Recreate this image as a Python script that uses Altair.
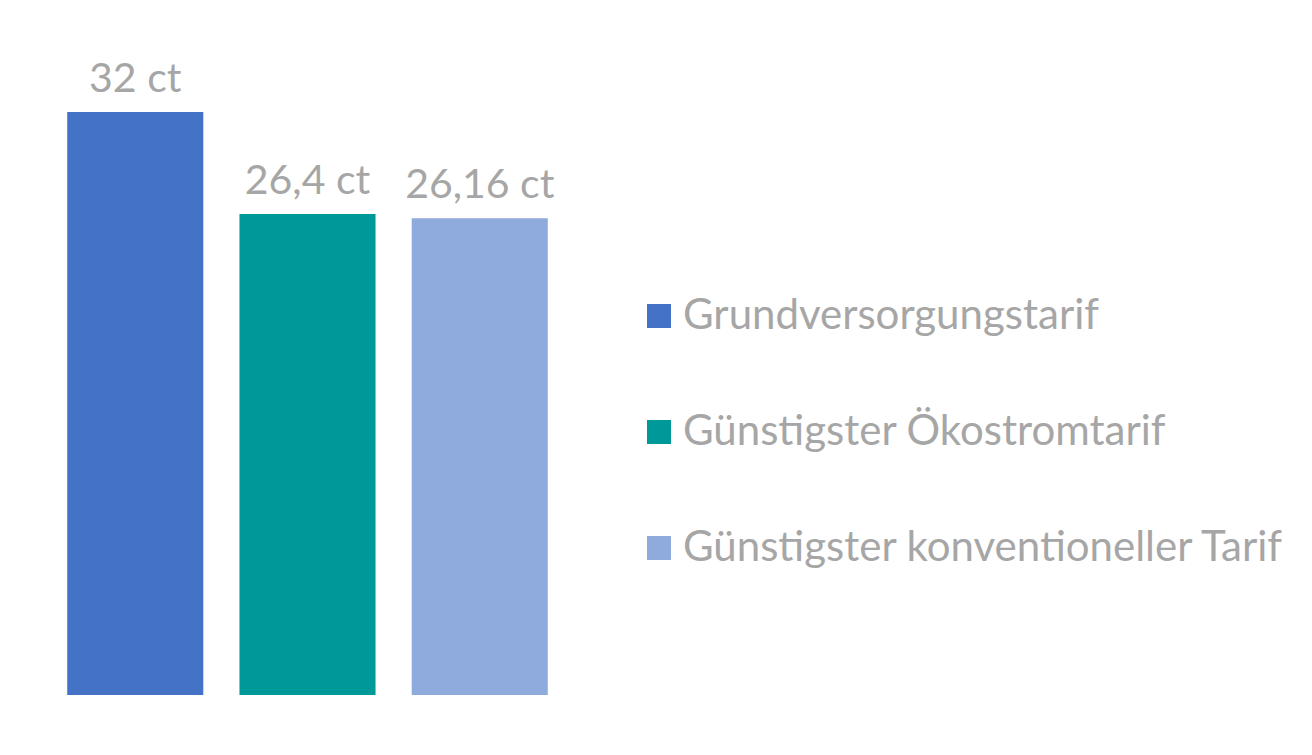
import altair as alt
import pandas as pd

categories = ["Grundversorgungstarif", "Günstigster Ökostromtarif", "Günstigster konventioneller Tarif"]
values = [32, 26.4, 26.16]
colors = ["#4472C4", "#009999", "#8FAADC"]

labels = [f"{v:g}".replace(".", ",") + " ct" for v in values]
df = pd.DataFrame({"cat": categories, "val": values, "label": labels})

FONT = "Lato"
GRAY = "#A6A6A6"

x = alt.X("cat:N", sort=categories, axis=None,
          scale=alt.Scale(paddingInner=0.21, paddingOuter=0.1))
y = alt.Y("val:Q", axis=None, scale=alt.Scale(domain=[0, 36], nice=False))

bars = alt.Chart(df).mark_bar().encode(
    x=x, y=y,
    color=alt.Color("cat:N", sort=categories,
                    scale=alt.Scale(domain=categories, range=colors),
                    legend=alt.Legend(
                        title=None, orient="none", legendX=588, legendY=256,
                        symbolType="square", symbolSize=576, symbolStrokeWidth=0,
                        labelFontSize=42, labelFont=FONT, labelColor=GRAY,
                        labelOffset=3, rowPadding=74, padding=0,
                        labelLimit=800, direction="vertical")),
)

text = alt.Chart(df).mark_text(
    baseline="alphabetic", dy=-20, fontSize=41, font=FONT, color=GRAY
).encode(x=x, y=y, text="label:N")

chart = alt.layer(bars, text).properties(
    width=515, height=656,
    padding={"left": 42, "top": 31, "right": 739, "bottom": 52},
    autosize=alt.AutoSizeParams(type="none"),
).configure_view(stroke=None)

chart.save("out.html", embed_options={"renderer": "svg", "actions": False})
